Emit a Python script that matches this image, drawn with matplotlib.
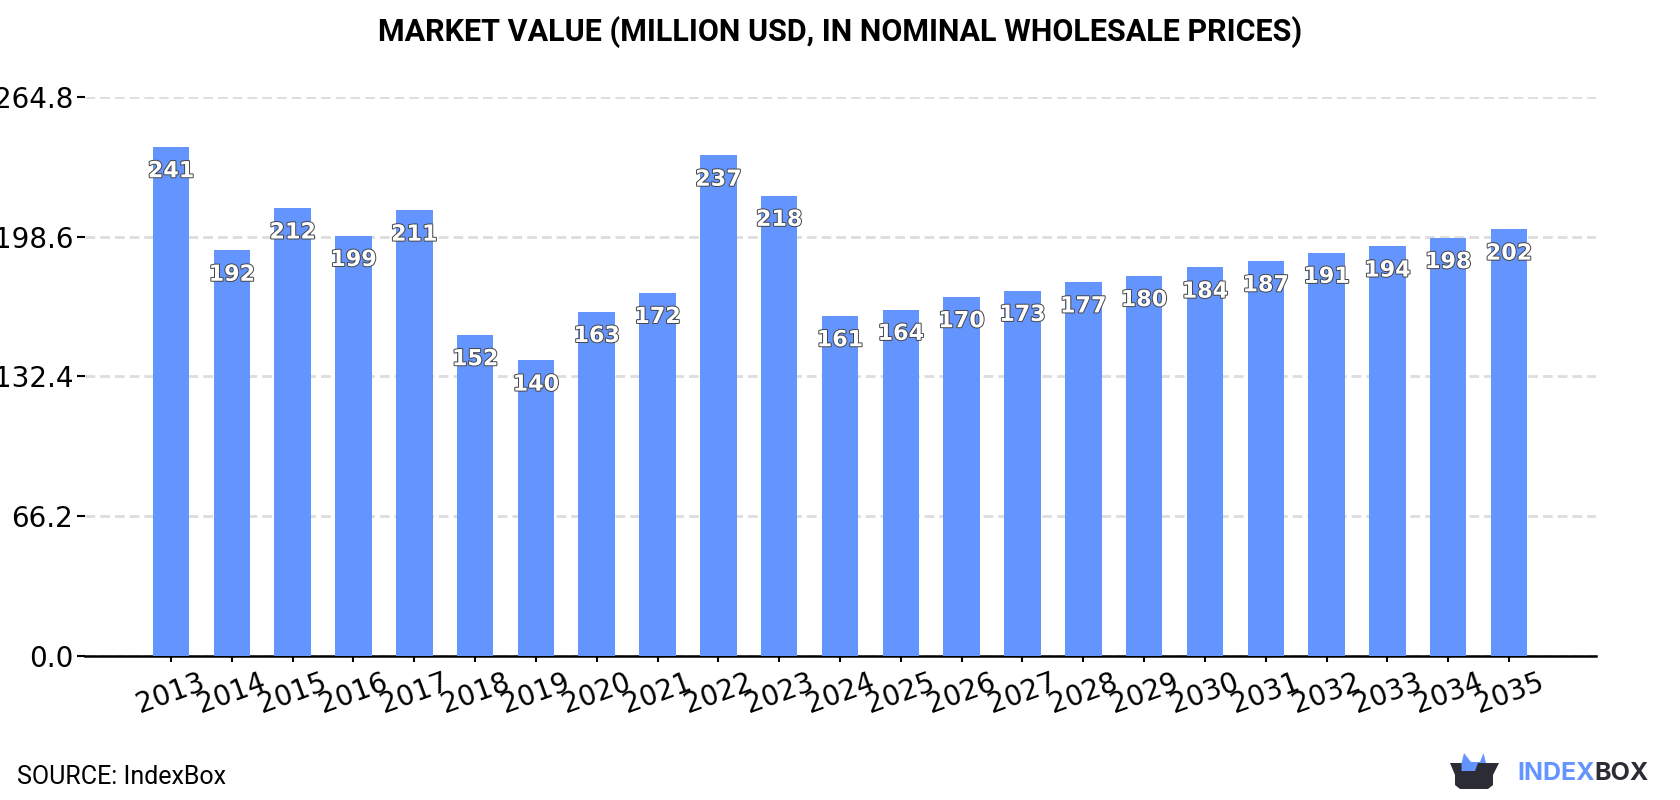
import matplotlib
matplotlib.use("Agg")
import matplotlib.pyplot as plt
import matplotlib.patheffects as pe
from matplotlib.patches import Polygon

years = [2013, 2014, 2015, 2016, 2017, 2018, 2019, 2020, 2021, 2022, 2023, 2024,
         2025, 2026, 2027, 2028, 2029, 2030, 2031, 2032, 2033, 2034, 2035]
values = [241, 192, 212, 199, 211, 152, 140, 163, 172, 237, 218, 161,
          164, 170, 173, 177, 180, 184, 187, 191, 194, 198, 202]
y_ticks = [0.0, 66.2, 132.4, 198.6, 264.8]

BAR_COLOR = "#6495ff"
DARK = "#2b2c36"
W, H = 1680, 800

fig = plt.figure(figsize=(16.8, 8), dpi=100)
ax = fig.add_axes([85 / W, 1 - 656 / H, (1596 - 85) / W, (656 - 96.7) / H])

pos = list(range(len(years)))
ax.bar(pos, values, width=0.6, color=BAR_COLOR, zorder=3)

for x, v in zip(pos, values):
    ax.annotate(str(v), (x, v), xytext=(0, -17.5), textcoords="offset points",
                ha="center", va="center", fontsize=16, fontweight="bold",
                color="white", zorder=4,
                path_effects=[pe.withStroke(linewidth=1.4, foreground="#444444")])

ax.set_xlim(-1.414, 22 + 1.43)
ax.set_ylim(0, 264.8)
ax.set_xticks(pos)
ax.set_xticklabels(years, rotation=20, fontsize=20)
ax.set_yticks(y_ticks)
ax.set_yticklabels([f"{t:.1f}" for t in y_ticks], fontsize=20)
ax.tick_params(axis="y", length=5.5, width=1.5, pad=3)
ax.tick_params(axis="x", length=4.5, width=1.5, pad=4.5)

ax.grid(axis="y", color="#dddddd", linewidth=2, dashes=(3.5, 1.8), zorder=0)
ax.set_axisbelow(True)
for side in ["top", "left", "right"]:
    ax.spines[side].set_visible(False)
ax.spines["bottom"].set_linewidth(1.8)

fig.text(840 / W, 1 - 32 / H, "MARKET VALUE (MILLION USD, IN NOMINAL WHOLESALE PRICES)",
         ha="center", va="center", family="Roboto", fontweight="bold", fontsize=22)
fig.text(17 / W, 1 - 777 / H, "SOURCE: IndexBox", ha="left", va="center",
         family="Roboto", fontsize=18)


# logo, given in pixels from the top left corner of the figure
def logo_poly(points, color):
    xy = [(px / W, 1 - py / H) for px, py in points]
    fig.add_artist(Polygon(xy, closed=True, facecolor=color, edgecolor="none",
                           transform=fig.transFigure))


logo_poly([(1461.5, 763), (1464, 753), (1471, 762), (1480, 762), (1483.5, 753),
           (1486, 763), (1478, 772), (1461.5, 772)], BAR_COLOR)
logo_poly([(1450, 763), (1470, 763), (1476, 763), (1499, 763), (1493, 775), (1493, 785),
           (1488, 789), (1460, 789), (1455, 785), (1455, 775)], DARK)
logo_poly([(1461.5, 763), (1478, 763), (1475, 771), (1461.5, 771)], BAR_COLOR)

t = fig.text(1517 / W, 1 - 774 / H, "INDEX", ha="left", va="center", family="Inter",
             fontweight="bold", fontsize=18, color=BAR_COLOR)
fig.canvas.draw()
end = t.get_window_extent().x1
fig.text(end / W, 1 - 774 / H, "BOX", ha="left", va="center", family="Inter",
         fontweight="bold", fontsize=18, color=DARK)

fig.savefig("out.png", dpi=100)
